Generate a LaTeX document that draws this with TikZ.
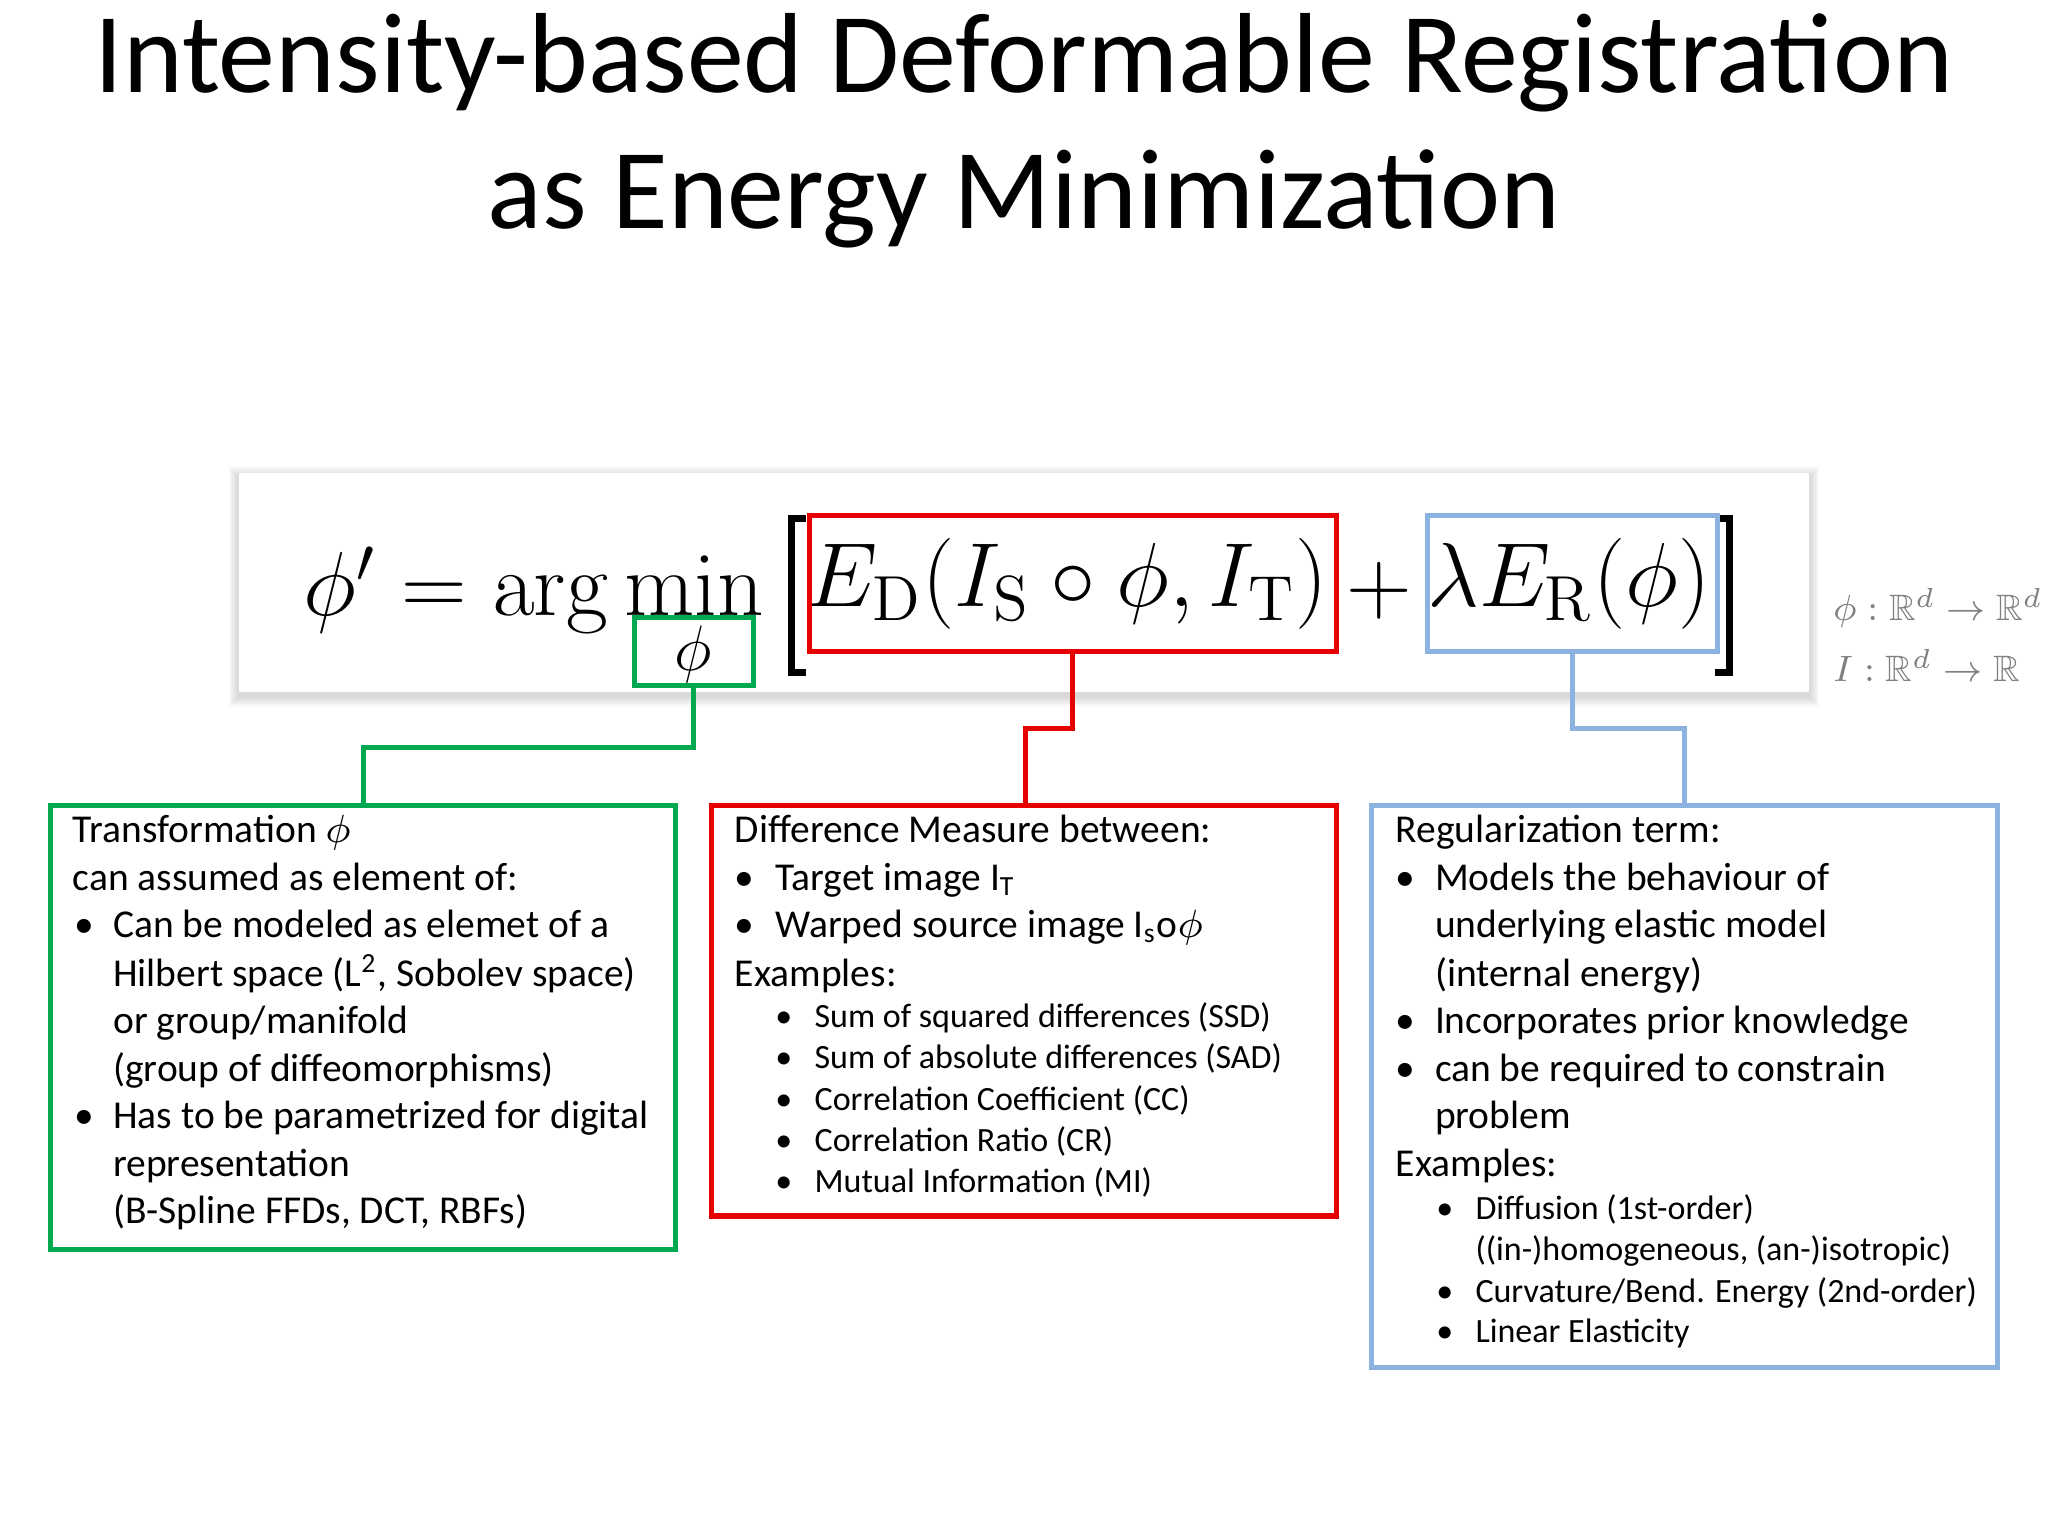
\documentclass[tikz,border=0pt]{standalone}
\usepackage{fix-cm}
\usepackage{amssymb}
\usepackage[no-math]{fontspec}
\setmainfont{Carlito}
\definecolor{gr}{RGB}{0,168,80}
\definecolor{rd}{RGB}{230,0,0}
\definecolor{bl}{RGB}{140,178,224}
\tikzset{x=0.01cm,y=-0.01cm,
 ln/.style={anchor=base west,inner sep=0pt,font=\fontsize{8.6}{9}\selectfont},
 sl/.style={anchor=base west,inner sep=0pt,font=\fontsize{7.4}{8}\selectfont},
 bx/.style={line width=1.1pt},
 mth/.style={inner sep=0pt,font=\fontsize{19.8}{22}\selectfont}}
\newcommand{\bu}{\textbullet}
\begin{document}
\begin{tikzpicture}
\useasboundingbox (0,0) rectangle (1568,1176);
\node[font=\fontsize{24.8}{28}\selectfont] (t1) at (784,48) {Intensity-based Deformable Registration};
\node[font=\fontsize{24.8}{28}\selectfont] (t2) at (784,152) {as Energy Minimization};
% formula panel with soft shadow
\foreach \d in {1,2,...,8}
  \fill[black,opacity=0.018] (183-\d,362-\d+3) rectangle (1385+\d,530+\d+3);
\fill[white] (183,362) rectangle (1385,530);
\node[mth,anchor=base west] (argmin) at (232,471) {$\phi' = \arg\min$};
\node[mth] (ed) at (817,447) {$E_{\mathrm D}(I_{\mathrm S}\circ\phi, I_{\mathrm T})$};
\node[mth] (plus) at (1056,452) {$+$};
\node[mth] (er) at (1201,447) {$\lambda E_{\mathrm R}(\phi)$};
\node[inner sep=0pt,font=\fontsize{14}{15}\selectfont] (phi) at (531,501) {$\phi$};
\draw[line width=1.6pt] (617,397) -- (606,397) -- (606,515) -- (617,515);
\draw[line width=1.6pt] (1313,397) -- (1324,397) -- (1324,515) -- (1313,515);
\draw[bx,gr] (486,473) rectangle (577,525);
\draw[bx,rd] (620,395) rectangle (1023,499);
\draw[bx,bl] (1093,395) rectangle (1315,499);
\node[anchor=base west,inner sep=0pt,text=gray,font=\fontsize{8}{9}\selectfont] (s1) at (1403,475) {$\phi:\mathbb{R}^d\rightarrow\mathbb{R}^d$};
\node[anchor=base west,inner sep=0pt,text=gray,font=\fontsize{8}{9}\selectfont] (s2) at (1403,522) {$I:\mathbb{R}^d\rightarrow\mathbb{R}$};
% boxes
\draw[bx,gr] (39,617) rectangle (517,957);
\draw[bx,rd] (545,617) rectangle (1023,931);
\draw[bx,bl] (1050,617) rectangle (1529,1047);
\coordinate (gt) at (278,617); \coordinate (rt) at (785,617); \coordinate (bt) at (1290,617);
\coordinate (gs) at (531,525); \coordinate (rs) at (821,499); \coordinate (bs) at (1204,499);
\draw[bx,gr] (gs) -- (531,572) -- (278,572) -- (gt);
\draw[bx,rd] (rs) -- (821,558) -- (785,558) -- (rt);
\draw[bx,bl] (bs) -- (1204,558) -- (1290,558) -- (bt);
% green text
\foreach \y/\x/\t [count=\i] in {637/55/{Transformation $\phi$},674/55/{can assumed as element of:},710/56/\bu,710/86/{Can be modeled as elemet of a},747/86/{Hilbert space (L\textsuperscript{2}, Sobolev space)},783/86/{or group/manifold},820/86/{(group of diffeomorphisms)},856/56/\bu,856/86/{Has to be parametrized for digital},893/86/{representation},929/86/{(B-Spline FFDs, DCT, RBFs)}}
  \node[ln] (g\i) at (\x,\y+8) {\t};
% red text
\foreach \y/\x/\t [count=\i] in {637/562/{Difference Measure between:},674/562/\bu,674/593/{Target image I\textsubscript{T}},710/562/\bu,710/593/{Warped source image I\textsubscript{s}o$\phi$},747/562/{Examples:}}
  \node[ln] (r\i) at (\x,\y+8) {\t};
\foreach \y/\t [count=\i] in {780/{Sum of squared differences (SSD)},811/{Sum of absolute differences (SAD)},843/{Correlation Coefficient (CC)},875/{Correlation Ratio (CR)},906/{Mutual Information (MI)}}
  {\node[sl] (rb\i) at (593,\y+7) {\bu}; \node[sl] (rs\i) at (623,\y+7) {\t};}
% blue text
\foreach \y/\x/\t [count=\i] in {637/1068/{Regularization term:},674/1068/\bu,674/1098/{Models the behaviour of},710/1098/{underlying elastic model},747/1098/{(internal energy)},783/1068/\bu,783/1098/{Incorporates prior knowledge},820/1068/\bu,820/1098/{can be required to constrain},856/1098/{problem},893/1068/{Examples:}}
  \node[ln] (b\i) at (\x,\y+8) {\t};
\foreach \y/\x/\t [count=\i] in {927/1099/\bu,927/1129/{Diffusion (1st-order)},958/1129/{((in-)homogeneous, (an-)isotropic)},990/1099/\bu,990/1129/{Curvature/Bend. Energy (2nd-order)},1021/1099/\bu,1021/1129/{Linear Elasticity}}
  \node[sl] (bb\i) at (\x,\y+7) {\t};
\end{tikzpicture}
\end{document}
